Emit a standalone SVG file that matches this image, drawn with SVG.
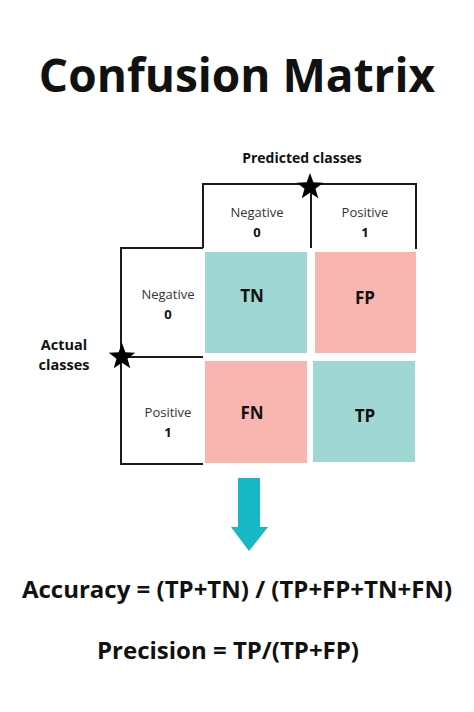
<svg xmlns="http://www.w3.org/2000/svg" width="474" height="712" viewBox="0 0 474 712">
<defs>
<style>
.t{font-family:"Open Sans","Noto Sans","Liberation Sans",sans-serif;fill:#111;text-anchor:middle}
.b{font-weight:700}
.lbl{font-size:13px;font-weight:400;fill:#333}
.num{font-size:13px;font-weight:700;fill:#111}
.cell{font-size:17px;font-weight:700}
.ln{fill:none;stroke:#1a1a1a;stroke-width:2}
.teal{fill:#a0d6d3}
.pink{fill:#f9b6b0}
.star{fill:#000}
</style>
<path id="starShape" d="M0,-14 L3.4,-4.7 L13.3,-4.3 L5.5,1.8 L8.3,11.3 L0,5.7 L-8.3,11.3 L-5.5,1.8 L-13.3,-4.3 L-3.4,-4.7 Z"/>
</defs>
<rect width="474" height="712" fill="#fff"/>
<g id="title"><text class="t b" x="237" y="92" font-size="46">Confusion Matrix</text></g>
<g id="connectors">
<path class="ln" d="M203,248 V184 H416 V249"/>
<path class="ln" d="M311,184 V248"/>
<path class="ln" d="M203,248 H121 V464 H203"/>
<path class="ln" d="M121,357 H203"/>
</g>
<g id="predicted-label"><text class="t b" x="302" y="163" font-size="14">Predicted classes</text></g>
<g id="star-top"><use href="#starShape" class="star" x="310" y="187"/></g>
<g id="actual-label"><text class="t b" x="64" y="350" font-size="14.5">Actual</text><text class="t b" x="64" y="370" font-size="14.5">classes</text></g>
<g id="star-left"><use href="#starShape" class="star" x="122" y="357"/></g>
<g id="pred-neg"><text class="t lbl" x="257" y="217">Negative</text><text class="t num" x="257" y="237">0</text></g>
<g id="pred-pos"><text class="t lbl" x="365" y="217">Positive</text><text class="t num" x="365" y="237">1</text></g>
<g id="act-neg"><text class="t lbl" x="168" y="299">Negative</text><text class="t num" x="168" y="319">0</text></g>
<g id="act-pos"><text class="t lbl" x="168" y="417">Positive</text><text class="t num" x="168" y="437">1</text></g>
<g id="TN"><rect class="teal" x="205" y="252" width="102" height="101"/><text class="t cell" x="252" y="302">TN</text></g>
<g id="FP"><rect class="pink" x="315" y="252" width="101" height="101"/><text class="t cell" x="365" y="304">FP</text></g>
<g id="FN"><rect class="pink" x="205" y="361" width="102" height="102"/><text class="t cell" x="252" y="419">FN</text></g>
<g id="TP"><rect class="teal" x="313" y="361" width="102" height="101"/><text class="t cell" x="365" y="422">TP</text></g>
<g id="arrow"><path d="M238,478 H260 V527 H268 L249,551 L231,527 H238 Z" fill="#17b7c3"/></g>
<g id="accuracy"><text class="t b" x="237" y="598" font-size="24">Accuracy = (TP+TN) / (TP+FP+TN+FN)</text></g>
<g id="precision"><text class="t b" x="228" y="659" font-size="24">Precision = TP/(TP+FP)</text></g>
</svg>
